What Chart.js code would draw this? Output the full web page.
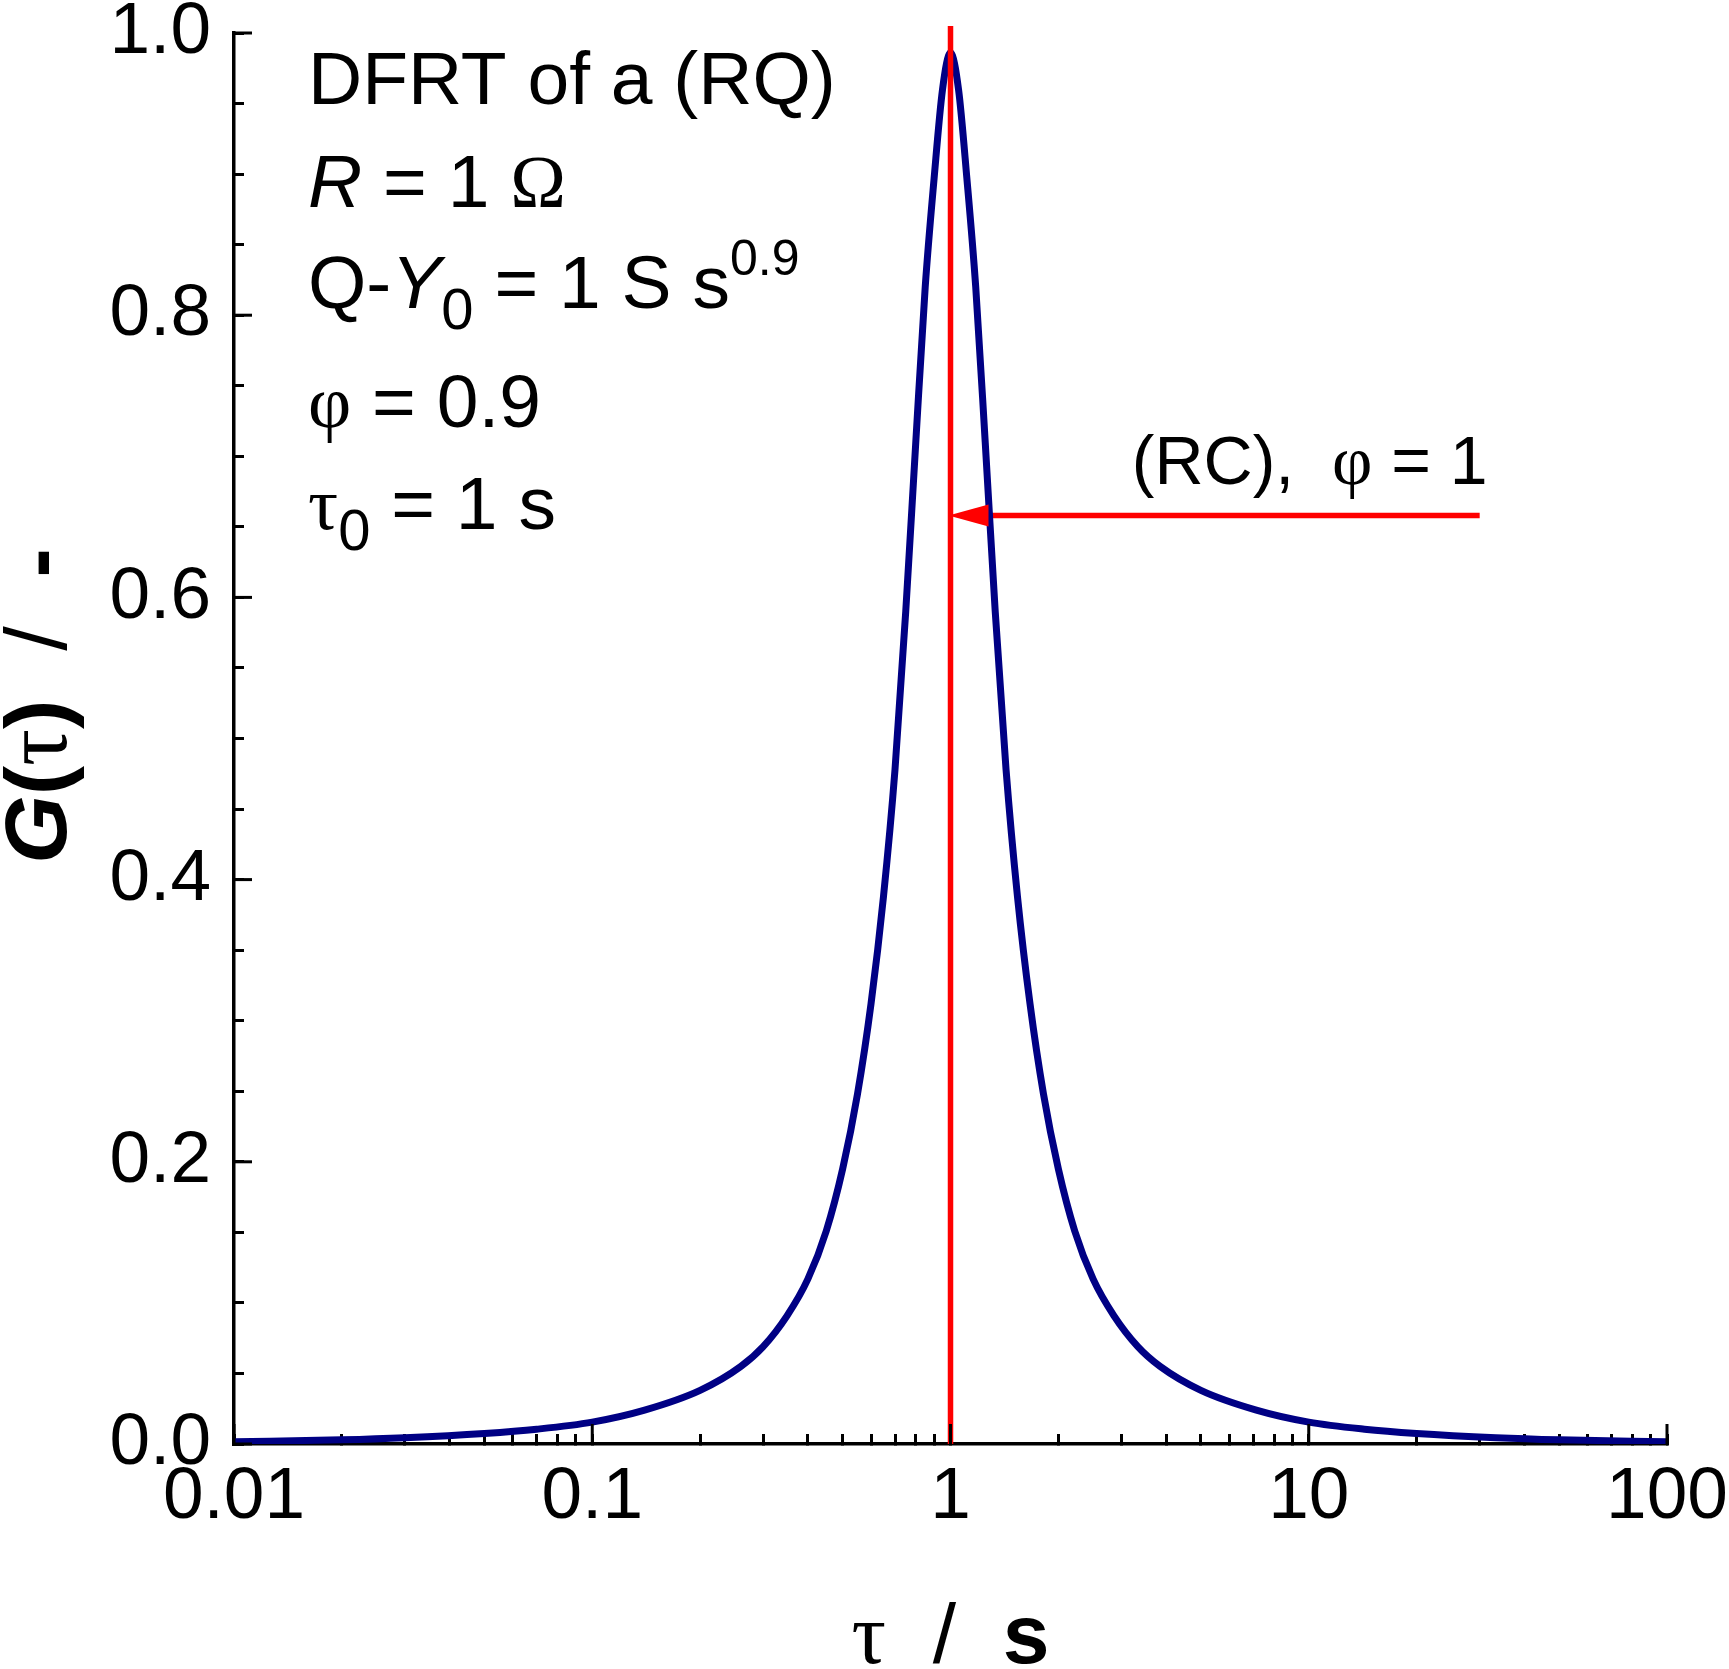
<!DOCTYPE html>
<html>
<head>
<meta charset="utf-8">
<title>DFRT of a (RQ)</title>
<script src="https://cdn.jsdelivr.net/npm/chart.js@4.4.0/dist/chart.umd.min.js"></script>
<style>
  html, body { margin: 0; padding: 0; background: #fff; }
  #wrap { width: 1729px; height: 1669px; }
</style>
</head>
<body>
<div id="wrap"><canvas id="dfrtChart" width="1729" height="1669"></canvas></div>
<script>
// tau / s and G(tau)
const tauValues = [0.01, 0.02, 0.03, 0.05, 0.07, 0.1, 0.14, 0.2, 0.26, 0.3, 0.35, 0.4, 0.45, 0.5, 0.55, 0.6,
  0.65, 0.7, 0.75, 0.8, 0.85, 0.9, 0.95, 1, 1.053, 1.111, 1.176, 1.25, 1.333, 1.429, 1.538, 1.667, 1.818,
  2, 2.222, 2.5, 2.857, 3.333, 3.846, 5, 7.14, 10, 14.3, 20, 33.3, 50, 100];
const gValues = [0.0016, 0.003, 0.0045, 0.0075, 0.0105, 0.0155, 0.024, 0.038, 0.055, 0.069, 0.091, 0.117, 0.151, 0.195, 0.248, 0.312,
  0.388, 0.478, 0.59, 0.71, 0.82, 0.897, 0.96, 0.986, 0.96, 0.897, 0.82, 0.71, 0.59, 0.478, 0.388, 0.312, 0.248,
  0.195, 0.151, 0.117, 0.091, 0.069, 0.055, 0.038, 0.024, 0.0155, 0.0105, 0.0075, 0.0045, 0.003, 0.0016];

// ideal (RC) element: delta at tau0, and the arrow pointing to it
const rcTau = [1, 1];
const rcG = [0, 1.005];
const arrowTau = [30, 1.25];
const arrowG = [0.658, 0.658];

const xTickLabels = ['0.01', '0.1', '1', '10', '100'];
const yTickLabels = ['0.0', '0.2', '0.4', '0.6', '0.8', '1.0'];

const sans = '"Liberation Sans", Arial, sans-serif';
const serif = '"Liberation Serif", "Times New Roman", serif';

function toPoints(xs, ys) {
  return xs.map((x, i) => ({ x: x, y: ys[i] }));
}

// draws a row of text pieces with different fonts, returns its width
function drawRuns(ctx, x, y, runs, measureOnly) {
  let cx = x;
  runs.forEach(r => {
    ctx.font = (r.style || '') + ' ' + (r.weight || 'normal') + ' ' + r.size + 'px ' + (r.family || sans);
    if (!measureOnly) ctx.fillText(r.text, cx, y + (r.dy || 0));
    cx += ctx.measureText(r.text).width;
  });
  return cx - x;
}

const annotations = {
  id: 'annotations',
  afterDatasetsDraw(chart) {
    const ctx = chart.ctx;
    const xs = chart.scales.x;
    const ys = chart.scales.y;
    const area = chart.chartArea;

    ctx.save();
    ctx.strokeStyle = '#000';
    ctx.lineWidth = 3;
    // longer major ticks
    xTickLabels.forEach(l => {
      const px = xs.getPixelForValue(parseFloat(l));
      ctx.beginPath();
      ctx.moveTo(px, area.bottom);
      ctx.lineTo(px, area.bottom - 20);
      ctx.stroke();
    });
    yTickLabels.forEach(l => {
      const py = ys.getPixelForValue(parseFloat(l));
      ctx.beginPath();
      ctx.moveTo(area.left, py);
      ctx.lineTo(area.left + 18, py);
      ctx.stroke();
    });

    // arrow head
    const tipX = xs.getPixelForValue(rcTau[0]) - 2;
    const tipY = ys.getPixelForValue(arrowG[0]);
    ctx.fillStyle = '#ff0000';
    ctx.beginPath();
    ctx.moveTo(tipX, tipY);
    ctx.lineTo(tipX + 40, tipY - 11);
    ctx.lineTo(tipX + 40, tipY + 11);
    ctx.closePath();
    ctx.fill();

    ctx.fillStyle = '#000';
    ctx.textBaseline = 'alphabetic';
    ctx.textAlign = 'left';

    // label of the arrow
    const rcRuns = [
      { text: '(RC),  ', size: 68 },
      { text: 'φ', size: 70, family: serif },
      { text: ' = 1', size: 68 }
    ];
    const rcW = drawRuns(ctx, 0, 0, rcRuns, true);
    drawRuns(ctx, xs.getPixelForValue(arrowTau[0]) + 8 - rcW, tipY - 32, rcRuns);

    // parameter block
    const left = area.left + 74;
    const fs = 75;
    drawRuns(ctx, left, area.top + 71, [{ text: 'DFRT of a (RQ)', size: fs }]);
    drawRuns(ctx, left, area.top + 174, [
      { text: 'R', size: fs, style: 'italic' },
      { text: ' = 1 ', size: fs },
      { text: 'Ω', size: fs, family: serif }
    ]);
    drawRuns(ctx, left, area.top + 275, [
      { text: 'Q-', size: fs },
      { text: 'Y', size: fs, style: 'italic' },
      { text: '0', size: 58, dy: 21 },
      { text: ' = 1 S s', size: fs },
      { text: '0.9', size: 50, dy: -33 }
    ]);
    drawRuns(ctx, left, area.top + 394, [
      { text: 'φ', size: fs, family: serif },
      { text: ' = 0.9', size: fs }
    ]);
    drawRuns(ctx, left, area.top + 496, [
      { text: 'τ', size: fs, family: serif },
      { text: '0', size: 58, dy: 21 },
      { text: ' = 1 s', size: fs }
    ]);

    // axis titles
    const xRuns = [
      { text: 'τ', size: 86, family: serif },
      { text: '  /  ', size: 84 },
      { text: 's', size: 84, weight: 'bold' }
    ];
    const xw = drawRuns(ctx, 0, 0, xRuns, true);
    drawRuns(ctx, (area.left + area.right) / 2 - xw / 2, 1663, xRuns);

    const yRuns = [
      { text: 'G', size: 88, weight: 'bold', style: 'italic' },
      { text: '(', size: 88, weight: 'bold' },
      { text: 'τ', size: 92, family: serif },
      { text: ')', size: 88, weight: 'bold' },
      { text: '  /  ', size: 88 },
      { text: '-', size: 88, weight: 'bold' }
    ];
    const yw = drawRuns(ctx, 0, 0, yRuns, true);
    ctx.translate(66, 706 + yw / 2);
    ctx.rotate(-Math.PI / 2);
    drawRuns(ctx, 0, 0, yRuns);
    ctx.restore();
  }
};

function fixBox(size, key) {
  return function (scale) {
    scale[key] = size;
    scale.paddingTop = 0;
    scale.paddingBottom = 0;
    scale.paddingLeft = 0;
    scale.paddingRight = 0;
  };
}

const tickFont = { family: sans, size: 73, lineHeight: 1 };

new Chart(document.getElementById('dfrtChart'), {
  type: 'line',
  data: {
    datasets: [
      {
        label: '(RC)',
        data: toPoints(rcTau, rcG),
        borderColor: '#ff0000',
        borderWidth: 5.5,
        pointRadius: 0,
        clip: false,
        order: 0
      },
      {
        label: 'DFRT (RQ)',
        data: toPoints(tauValues, gValues),
        borderColor: '#000084',
        borderWidth: 7,
        pointRadius: 0,
        cubicInterpolationMode: 'monotone',
        order: 1
      },
      {
        label: 'arrow',
        data: toPoints(arrowTau, arrowG),
        borderColor: '#ff0000',
        borderWidth: 5.5,
        pointRadius: 0,
        order: 2
      }
    ]
  },
  options: {
    responsive: false,
    animation: false,
    layout: { padding: { top: 33, right: 62, bottom: 0, left: 0 } },
    plugins: { legend: { display: false }, tooltip: { enabled: false } },
    scales: {
      x: {
        type: 'logarithmic',
        min: 0.01,
        max: 100,
        afterBuildTicks(scale) {
          const ticks = [];
          xTickLabels.forEach((l, i) => {
            const d = parseFloat(l);
            const top = i === xTickLabels.length - 1 ? 1 : 9;
            for (let k = 1; k <= top; k++) ticks.push({ value: d * k });
          });
          scale.ticks = ticks;
        },
        afterFit: fixBox(225, 'height'),
        ticks: {
          autoSkip: false,
          maxRotation: 0,
          padding: 27,
          color: '#000',
          font: tickFont,
          callback(v) {
            const e = Math.log10(v);
            if (Math.abs(e - Math.round(e)) < 1e-6) return xTickLabels[Math.round(e) + 2];
            return '';
          }
        },
        grid: { drawOnChartArea: false, tickLength: -10, tickWidth: 3, tickColor: '#000' },
        border: { display: true, color: '#000', width: 3.5 }
      },
      y: {
        type: 'linear',
        min: 0,
        max: 1,
        afterFit: fixBox(234, 'width'),
        ticks: {
          stepSize: 0.05,
          autoSkip: false,
          padding: 33,
          color: '#000',
          font: tickFont,
          callback(v) {
            const k = Math.round(v * 20);
            return k % 4 === 0 ? yTickLabels[k / 4] : '';
          }
        },
        grid: { drawOnChartArea: false, tickLength: -10, tickWidth: 3, tickColor: '#000' },
        border: { display: true, color: '#000', width: 3.5 }
      }
    }
  },
  plugins: [annotations]
});
</script>
</body>
</html>
